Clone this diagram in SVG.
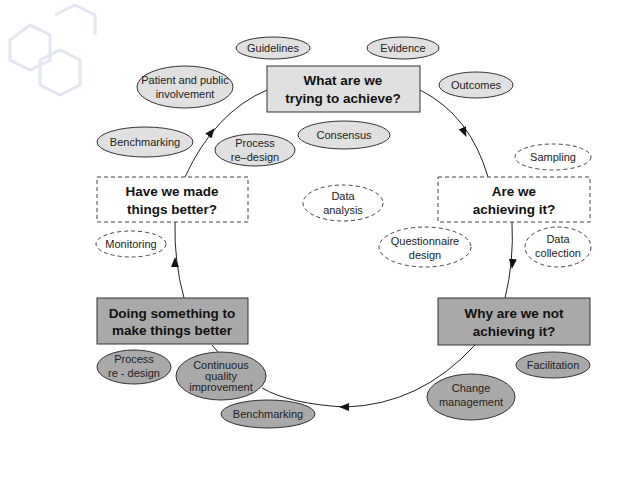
<svg xmlns="http://www.w3.org/2000/svg" width="638" height="478" viewBox="0 0 638 478">
<style>
text{font-family:"Liberation Sans",Arial,sans-serif;fill:#222;text-anchor:middle}
.e{font-size:11px}
.b{font-size:13.5px;font-weight:bold;fill:#111}
.lt{fill:#e0e0e0;stroke:#333;stroke-width:1}
.dk{fill:#a9a9a9;stroke:#333;stroke-width:1}
.ds{fill:#fff;stroke:#444;stroke-width:1;stroke-dasharray:4 3}
.c{fill:none;stroke:#222;stroke-width:1}
</style>
<defs><marker id="a" markerWidth="10" markerHeight="8" refX="9" refY="4" orient="auto" markerUnits="userSpaceOnUse"><path d="M0,0 L10,4 L0,8 Z" fill="#111"/></marker></defs>
<rect width="638" height="478" fill="#fff"/>
<g opacity="0.25" stroke="#8aa0c8" stroke-width="3" fill="none">
<path d="M10,40 L30,25 L50,35 L50,60 L30,70 L10,60 Z"/>
<path d="M40,60 L60,50 L80,60 L80,85 L60,95 L40,85 Z"/>
<path d="M55,15 L75,5 L95,15 L95,35"/>
</g>
<g id="connectors">
<path class="c" d="M420,90 Q470,115 488,177"/>
<path class="c" d="M420,90 Q452,105 466,136" marker-end="url(#a)" stroke-opacity="0"/>
<path class="c" d="M512,222 Q514,262 505,298"/>
<path class="c" d="M512,222 Q514,245 512,268" marker-end="url(#a)" stroke-opacity="0"/>
<path class="c" d="M475,345 Q420,405 345,407"/>
<path class="c" d="M345,407 Q290,404 262,388"/>
<path class="c" d="M380,404 Q362,407 340,407" marker-end="url(#a)" stroke-opacity="0"/>
<path class="c" d="M184,298 Q174,262 175,222"/>
<path class="c" d="M180,283 Q175,270 175,258" marker-end="url(#a)" stroke-opacity="0"/>
<path class="c" d="M185,177 Q215,112 267,90"/>
<path class="c" d="M185,177 Q197,150 214,129" marker-end="url(#a)" stroke-opacity="0"/>
<path class="c" d="M212,345 L218,352"/>
</g>
<g id="n1"><rect x="267" y="66" width="153" height="46" class="lt"/><text class="b" x="343" y="85">What are we</text><text class="b" x="343" y="103">trying to achieve?</text></g>
<g id="n2"><rect x="438" y="177" width="152" height="45" class="ds"/><text class="b" x="514" y="196">Are we</text><text class="b" x="514" y="214">achieving it?</text></g>
<g id="n3"><rect x="438" y="298" width="152" height="47" class="dk"/><text class="b" x="514" y="318">Why are we not</text><text class="b" x="514" y="336">achieving it?</text></g>
<g id="n4"><rect x="97" y="298" width="151" height="46" class="dk"/><text class="b" x="172" y="318">Doing something to</text><text class="b" x="172" y="335">make things better</text></g>
<g id="n5"><rect x="97" y="177" width="151" height="45" class="ds"/><text class="b" x="172" y="196">Have we made</text><text class="b" x="172" y="214">things better?</text></g>
<g id="e1"><ellipse cx="273" cy="48" rx="37" ry="11" class="lt"/><text class="e" x="273" y="52">Guidelines</text></g>
<g id="e2"><ellipse cx="403" cy="48" rx="36" ry="11" class="lt"/><text class="e" x="403" y="52">Evidence</text></g>
<g id="e3"><ellipse cx="185" cy="87" rx="48" ry="21" class="lt"/><text class="e" x="185" y="84">Patient and public</text><text class="e" x="185" y="98">involvement</text></g>
<g id="e4"><ellipse cx="476" cy="85" rx="37" ry="13" class="lt"/><text class="e" x="476" y="89">Outcomes</text></g>
<g id="e5"><ellipse cx="145" cy="142" rx="48" ry="15" class="lt"/><text class="e" x="145" y="146">Benchmarking</text></g>
<g id="e6"><ellipse cx="255" cy="150" rx="40" ry="16" class="lt"/><text class="e" x="255" y="147">Process</text><text class="e" x="255" y="161">re–design</text></g>
<g id="e7"><ellipse cx="344" cy="135" rx="46" ry="14" class="lt"/><text class="e" x="344" y="139">Consensus</text></g>
<g id="e8"><ellipse cx="553" cy="157" rx="38" ry="13" class="ds"/><text class="e" x="553" y="161">Sampling</text></g>
<g id="e9"><ellipse cx="343" cy="203" rx="40" ry="18" class="ds"/><text class="e" x="343" y="200">Data</text><text class="e" x="343" y="214">analysis</text></g>
<g id="e10"><ellipse cx="425" cy="247" rx="46" ry="20" class="ds"/><text class="e" x="425" y="245">Questionnaire</text><text class="e" x="425" y="259">design</text></g>
<g id="e11"><ellipse cx="558" cy="247" rx="33" ry="20" class="ds"/><text class="e" x="558" y="243">Data</text><text class="e" x="558" y="257">collection</text></g>
<g id="e12"><ellipse cx="131" cy="244" rx="35" ry="13" class="ds"/><text class="e" x="131" y="248">Monitoring</text></g>
<g id="e13"><ellipse cx="553" cy="365" rx="37" ry="13" class="dk"/><text class="e" x="553" y="369">Facilitation</text></g>
<g id="e14"><ellipse cx="471" cy="397" rx="44" ry="23" class="dk"/><text class="e" x="471" y="392">Change</text><text class="e" x="471" y="406">management</text></g>
<g id="e15"><ellipse cx="134" cy="367" rx="37" ry="17" class="dk"/><text class="e" x="134" y="363">Process</text><text class="e" x="134" y="377">re - design</text></g>
<g id="e16"><ellipse cx="221" cy="376" rx="45" ry="24" class="dk"/><text class="e" x="221" y="369">Continuous</text><text class="e" x="221" y="380">quality</text><text class="e" x="221" y="391">improvement</text></g>
<g id="e17"><ellipse cx="268" cy="414" rx="47" ry="14" class="dk"/><text class="e" x="268" y="418">Benchmarking</text></g>
</svg>
